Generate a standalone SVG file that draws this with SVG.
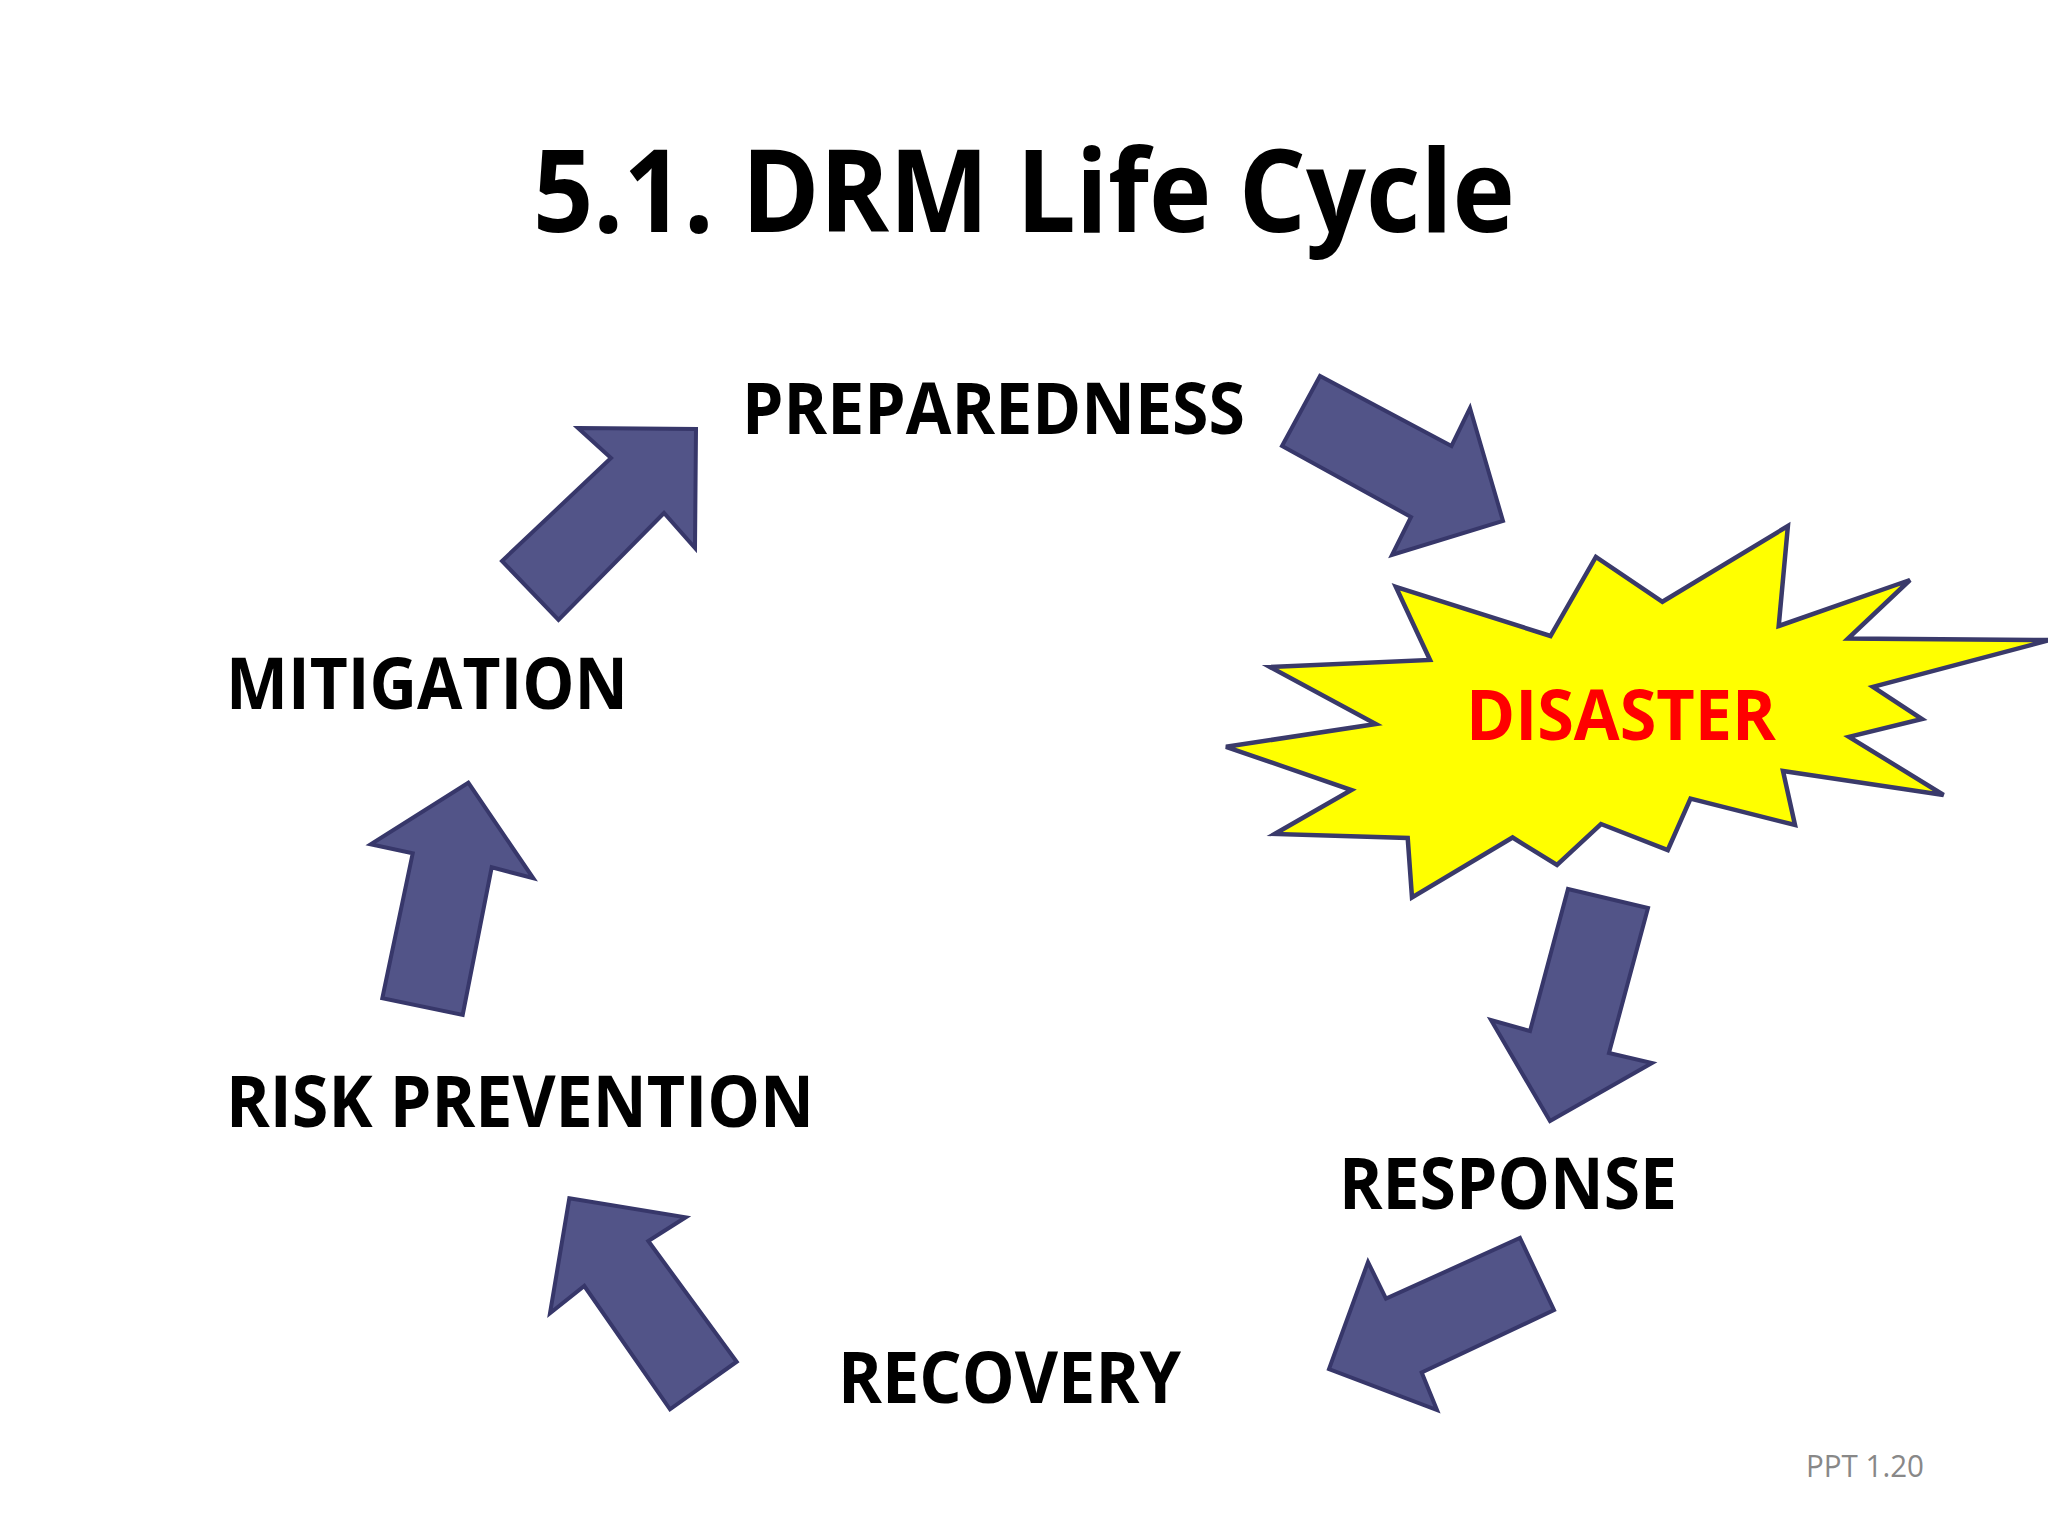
<svg xmlns="http://www.w3.org/2000/svg" width="2048" height="1536" viewBox="0 0 2048 1536">
  <style>
    .lbl { font-family: "Open Sans", "Liberation Sans", sans-serif; font-weight: bold; font-size: 71px; fill: #000000; }
    .title { font-family: "Open Sans", "Liberation Sans", sans-serif; font-weight: bold; font-size: 114px; fill: #000000; }
    .arrow { fill: #525488; stroke: #37376A; stroke-width: 4; stroke-linejoin: miter; }
    .burst { fill: #FFFF00; stroke: #3A3A6A; stroke-width: 4.5; stroke-linejoin: miter; }
    .red { font-family: "Open Sans", "Liberation Sans", sans-serif; font-weight: bold; font-size: 69px; fill: #FF0000; }
    .foot { font-family: "Open Sans", "Liberation Sans", sans-serif; font-size: 31px; fill: #888888; }
  </style>
  <rect width="2048" height="1536" fill="#FFFFFF"/>

  <g id="title">
    <text class="title" x="533" y="232" textLength="982" lengthAdjust="spacingAndGlyphs">5.1. DRM Life Cycle</text>
  </g>

  <g id="connectors">
    <polygon class="arrow" points="578,428 696,429 695,548 664,513 558.5,620 502,561 611,458"/>
    <polygon class="arrow" points="1320,376 1282,446 1411,517 1392,555 1503,521 1470,408 1451.5,446"/>
    <polygon class="arrow" points="1568,889 1648,908 1609,1053 1652,1063 1550,1121 1491,1020 1530,1031"/>
    <polygon class="arrow" points="1520,1238 1554,1310 1421.7,1372.5 1437,1410 1329,1369 1368,1262 1386,1298.6"/>
    <polygon class="arrow" points="569.3,1198.3 685.7,1217.3 648.3,1241 736.7,1361.7 670,1409.3 584.3,1286 550,1313.3"/>
    <polygon class="arrow" points="468.3,782.7 533.3,878.3 491.7,867.3 462.7,1015 382.3,998.3 412.7,853.3 370.7,844.3"/>
  </g>

  <g id="preparedness">
    <text class="lbl" x="742" y="434" textLength="503" lengthAdjust="spacingAndGlyphs">PREPAREDNESS</text>
  </g>

  <g id="disaster">
    <polygon class="burst" points="1395.8,586.8 1550.5,636 1595.9,557 1662.4,601.8 1787.9,526 1778.7,626 1910,580 1848,638.6 2050,640 1873,686.8 1922,719 1849,736.8 1943.6,795 1783,771 1795,825 1690.5,798.6 1667.8,850 1601,824 1557,865 1512.6,837.5 1412,897.5 1407.7,838 1274.6,834 1351.4,790 1226,746.8 1375.8,724 1270,667 1430,660"/>
    <text class="red" x="1466" y="740" textLength="310" lengthAdjust="spacingAndGlyphs">DISASTER</text>
  </g>

  <g id="response">
    <text class="lbl" x="1339" y="1209" textLength="338" lengthAdjust="spacingAndGlyphs">RESPONSE</text>
  </g>

  <g id="recovery">
    <text class="lbl" x="838" y="1403" textLength="343" lengthAdjust="spacingAndGlyphs">RECOVERY</text>
  </g>

  <g id="risk-prevention">
    <text class="lbl" x="226" y="1127" textLength="588" lengthAdjust="spacingAndGlyphs">RISK PREVENTION</text>
  </g>

  <g id="mitigation">
    <text class="lbl" x="226" y="709" textLength="402" lengthAdjust="spacingAndGlyphs">MITIGATION</text>
  </g>

  <g id="footer">
    <text class="foot" x="1806" y="1477" textLength="118" lengthAdjust="spacingAndGlyphs">PPT 1.20</text>
  </g>
</svg>
